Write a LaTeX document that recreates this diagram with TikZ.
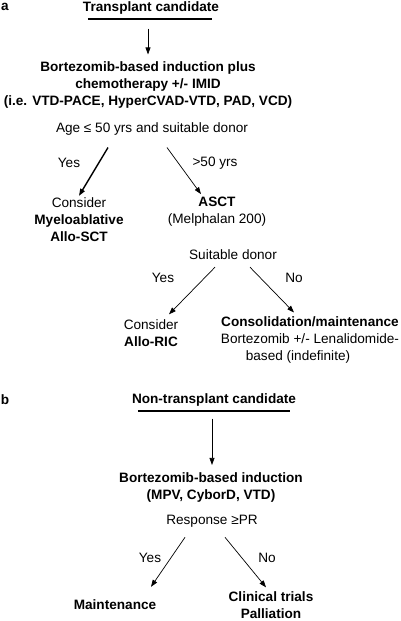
\documentclass[tikz,border=0pt]{standalone}
\usepackage{fontspec}
\setmainfont{Liberation Sans}
\usetikzlibrary{arrows.meta}
\begin{document}
\begin{tikzpicture}[
  x=1pt, y=-1pt,
  txt/.style={align=center, inner sep=1pt, font=\fontsize{13.6}{17}\selectfont},
  hdr/.style={txt, font=\fontsize{13.6}{17}\selectfont\bfseries},
  flow/.style={-{Triangle[length=7pt,width=5pt]}, line width=0.7pt},
  heavyflow/.style={flow, line width=1.4pt},
  uline/.style={line width=1.3pt}
]
  \useasboundingbox (0,0) rectangle (401,621);

  \node[hdr] (pa) at (5,7) {a};
  \node[hdr] (ta) at (151,8) {Transplant candidate};
  \node[hdr] (ind) at (148,85) {Bortezomib-based induction plus\\chemotherapy +/- IMID\\(i.e. VTD-PACE, HyperCVAD-VTD, PAD, VCD)};
  \node[txt] (age) at (152,129) {Age ≤ 50 yrs and suitable donor};
  \node[txt] (y1) at (69,163) {Yes};
  \node[txt] (o1) at (215,163) {>50 yrs};
  \node[txt] (msct) at (79,220) {Consider\\\textbf{Myeloablative}\\\textbf{Allo-SCT}};
  \node[txt] (asct) at (217,212) {\textbf{ASCT}\\(Melphalan 200)};
  \node[txt] (sd) at (233,255) {Suitable donor};
  \node[txt] (y2) at (163,278) {Yes};
  \node[txt] (n2) at (294,278) {No};
  \node[txt] (ric) at (151,333) {Consider\\\textbf{Allo-RIC}};
  \node[txt] (cons) at (310,340) {\textbf{Consolidation/maintenance}\\Bortezomib +/- Lenalidomide-\\based (indefinite)\hspace*{24pt}};

  \draw[uline] ([xshift=6pt,yshift=-3.5pt]ta.south west) -- ([xshift=-8pt,yshift=-3.5pt]ta.south east);
  \draw[flow] ([xshift=-3pt,yshift=-13pt]ta.south) -- ([yshift=6pt]ind.north);
  \draw[heavyflow] ([xshift=-44pt,yshift=-11pt]age.south) -- ([yshift=1pt]msct.north);
  \draw[flow] ([xshift=15pt,yshift=-11pt]age.south) -- ([xshift=-16pt,yshift=2pt]asct.north);
  \draw[flow] ([xshift=-18pt,yshift=-6pt]sd.south) -- ([xshift=18pt,yshift=4pt]ric.north);
  \draw[flow] ([xshift=17pt,yshift=-6pt]sd.south) -- ([xshift=-16pt,yshift=3pt]cons.north);

  \node[hdr] (pb) at (5,400) {b};
  \node[hdr] (tb) at (214,400) {Non-transplant candidate};
  \node[hdr] (bind) at (211,487) {Bortezomib-based induction\\(MPV, CyborD, VTD)};
  \node[txt] (resp) at (212,521) {Response ≥PR};
  \node[txt] (y3) at (150,558) {Yes};
  \node[txt] (n3) at (267,558) {No};
  \node[hdr] (maint) at (115,605) {Maintenance};
  \node[hdr] (clin) at (271,605) {Clinical trials\\Palliation};

  \draw[uline] ([xshift=7pt,yshift=-3.5pt]tb.south west) -- ([xshift=-7pt,yshift=-3.5pt]tb.south east);
  \draw[flow] ([xshift=-2pt,yshift=-11pt]tb.south) -- ([xshift=1pt,yshift=6pt]bind.north);
  \draw[flow] ([xshift=-27pt,yshift=-9pt]resp.south) -- ([xshift=36pt,yshift=12pt]maint.north);
  \draw[flow] ([xshift=13pt,yshift=-9pt]resp.south) -- ([xshift=-5pt,yshift=3pt]clin.north);
\end{tikzpicture}
\end{document}
